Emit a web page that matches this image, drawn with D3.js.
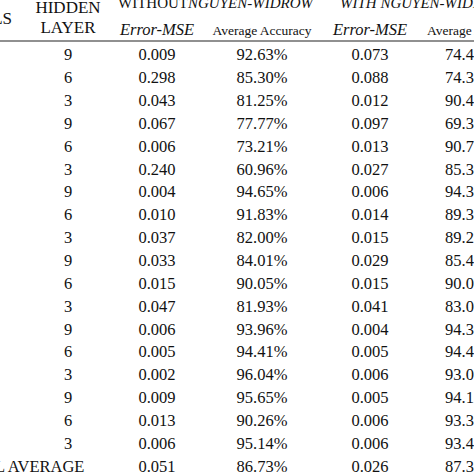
<!DOCTYPE html><html><head><meta charset="utf-8"><script src="https://cdn.jsdelivr.net/npm/d3@7"></script>
<style>body{margin:0;background:#fff;overflow:hidden}svg{display:block}</style></head><body><script>
const hidden=["9","6","3","9","6","3","9","6","3","9","6","3","9","6","3","9","6","3"];
const mse1=["0.009","0.298","0.043","0.067","0.006","0.240","0.004","0.010","0.037","0.033","0.015","0.047","0.006","0.005","0.002","0.009","0.013","0.006","0.051"];
const acc1=["92.63%","85.30%","81.25%","77.77%","73.21%","60.96%","94.65%","91.83%","82.00%","84.01%","90.05%","81.93%","93.96%","94.41%","96.04%","95.65%","90.26%","95.14%","86.73%"];
const mse2=["0.073","0.088","0.012","0.097","0.013","0.027","0.006","0.014","0.015","0.029","0.015","0.041","0.004","0.005","0.006","0.005","0.006","0.006","0.026"];
const acc2=["74.40%","74.30%","90.40%","69.30%","90.70%","85.30%","94.30%","89.30%","89.20%","85.40%","90.00%","83.00%","94.30%","94.40%","93.00%","94.10%","93.30%","93.40%","87.30%"];
const W=474,H=474;
const svg=d3.select("body").append("svg").attr("width",W).attr("height",H).style("font-family","'Liberation Serif',serif").style("fill","#111");
const rows=d3.range(19);
const y=d3.scaleBand().domain(rows).range([44,478]);
const cx={hid:68,m1:157,a1:262,m2:370,a2:445};
const t=(xx,yy,s,o={})=>svg.append("text").attr("x",xx).attr("y",yy).attr("text-anchor",o.a||"middle").attr("font-size",o.fs||16.5).attr("font-style",o.i?"italic":null).text(s);
t(68,13,"HIDDEN",{fs:17});t(68,33,"LAYER",{fs:17});t(12,24,"LS",{a:"end",fs:17});
svg.append("text").attr("x",118).attr("y",8).attr("font-size",15).html('WITHOUT<tspan font-style="italic">NGUYEN-WIDROW</tspan>');
t(340,8,"WITH NGUYEN-WIDROW",{a:"start",i:1,fs:15});
t(157,35,"Error-MSE",{i:1,fs:16.5});t(262,35,"Average Accuracy",{fs:13.5});
t(370,35,"Error-MSE",{i:1,fs:16.5});t(427,35,"Average Accuracy",{a:"start",fs:13.5});
svg.append("line").attr("x1",0).attr("x2",W).attr("y1",41).attr("y2",41).attr("stroke","#222").attr("stroke-width",1.2);
rows.forEach(i=>{const yy=y(i)+y.bandwidth()/2+5;
 if(i<18)t(cx.hid,yy,hidden[i]);else t(-5,yy,"L AVERAGE",{a:"start"});
 t(cx.m1,yy,mse1[i]);t(cx.a1,yy,acc1[i]);t(cx.m2,yy,mse2[i]);t(cx.a2,yy,acc2[i],{a:"start"});});
</script></body></html>
